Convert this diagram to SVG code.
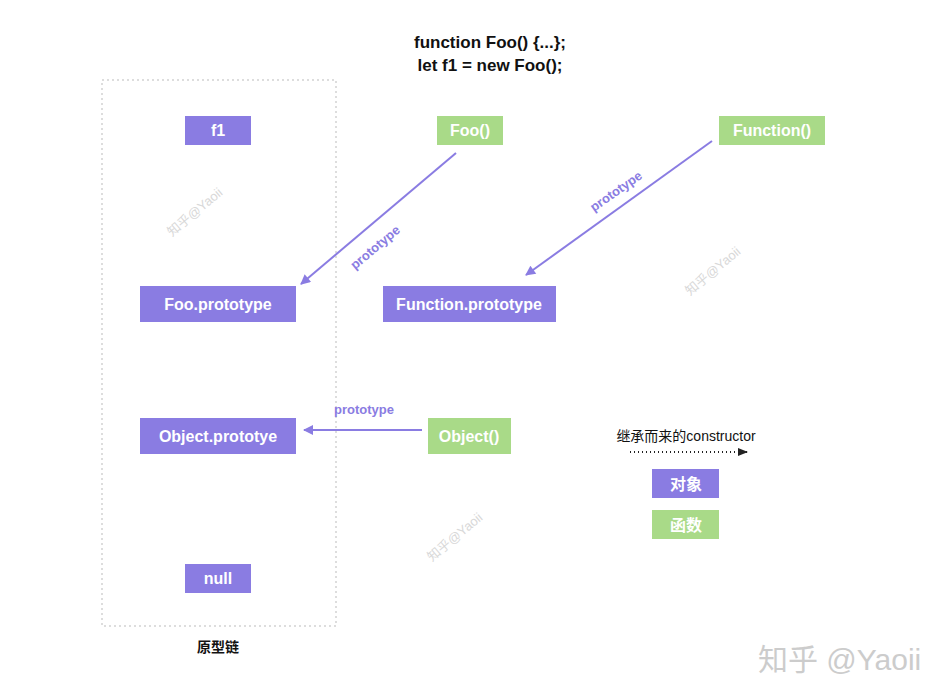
<svg xmlns="http://www.w3.org/2000/svg" width="935" height="698" viewBox="0 0 935 698">
<style>
text{font-family:"Liberation Sans","Noto Sans CJK SC",sans-serif}
.p{fill:#8a7ce2}.g{fill:#a9da88}
.t{fill:#fff;font-size:16px;text-anchor:middle;font-weight:600}
.l{fill:#8a7ce2;font-size:13px;font-weight:600}
.w{fill:#d8d8d8;font-size:13px}
.e{stroke:#8a7ce2;stroke-width:2;fill:none;marker-end:url(#a)}
</style>
<defs>
<marker id="a" viewBox="0 0 10 10" refX="9" refY="5" markerWidth="14" markerHeight="10" orient="auto" markerUnits="userSpaceOnUse"><path d="M0,0L10,5L0,10z" fill="#8a7ce2"/></marker>
<marker id="b" viewBox="0 0 10 10" refX="9" refY="5" markerWidth="14" markerHeight="10" orient="auto" markerUnits="userSpaceOnUse"><path d="M0,1L10,5L0,9z" fill="#222"/></marker>
</defs>
<rect width="935" height="698" fill="#fff"/>
<text x="490" y="48" font-size="17" font-weight="600" text-anchor="middle" fill="#111">function Foo() {...};</text>
<text x="490" y="71" font-size="17" font-weight="600" text-anchor="middle" fill="#111">let f1 = new Foo();</text>
<rect x="102" y="80" width="234" height="546" fill="none" stroke="#bbb" stroke-dasharray="2,3"/>
<text x="218" y="652" font-size="14" font-weight="bold" text-anchor="middle" fill="#111">原型链</text>
<g id="f1"><rect class="p" x="185" y="116" width="66" height="29"/><text class="t" x="218" y="136">f1</text></g>
<g id="foo"><rect class="g" x="437" y="116" width="66" height="29"/><text class="t" x="470" y="136">Foo()</text></g>
<g id="function"><rect class="g" x="719" y="116" width="106" height="29"/><text class="t" x="772" y="136">Function()</text></g>
<g id="fooproto"><rect class="p" x="140" y="286" width="156" height="36"/><text class="t" x="218" y="310">Foo.prototype</text></g>
<g id="funcproto"><rect class="p" x="383" y="286" width="173" height="36"/><text class="t" x="469" y="310">Function.prototype</text></g>
<g id="objproto"><rect class="p" x="140" y="418" width="156" height="36"/><text class="t" x="218" y="442">Object.prototye</text></g>
<g id="object"><rect class="g" x="428" y="418" width="83" height="36"/><text class="t" x="469" y="442">Object()</text></g>
<g id="null"><rect class="p" x="185" y="564" width="66" height="29"/><text class="t" x="218" y="584">null</text></g>
<g id="legend">
<text x="686" y="441" font-size="14" text-anchor="middle" fill="#111">继承而来的constructor</text>
<line x1="630" y1="452" x2="747" y2="452" stroke="#222" stroke-width="2" stroke-dasharray="1,3" marker-end="url(#b)"/>
<rect class="p" x="652" y="469" width="67" height="29"/><text class="t" x="686" y="490">对象</text>
<rect class="g" x="652" y="510" width="67" height="29"/><text class="t" x="686" y="531">函数</text>
</g>
<g id="connectors">
<line class="e" x1="456" y1="153" x2="301" y2="284"/>
<line class="e" x1="712" y1="141" x2="526" y2="275"/>
<line class="e" x1="422" y1="430" x2="304" y2="430"/>
<text class="l" transform="translate(355,270) rotate(-40)">prototype</text>
<text class="l" transform="translate(594,212) rotate(-35)">prototype</text>
<text class="l" x="334" y="414">prototype</text>
</g>
<text class="w" transform="translate(172,237) rotate(-40)">知乎@Yaoii</text>
<text class="w" transform="translate(690,296) rotate(-40)">知乎@Yaoii</text>
<text class="w" transform="translate(432,562) rotate(-40)">知乎@Yaoii</text>
<text x="758" y="670" font-size="30" fill="#ccc">知乎 @Yaoii</text>
</svg>
